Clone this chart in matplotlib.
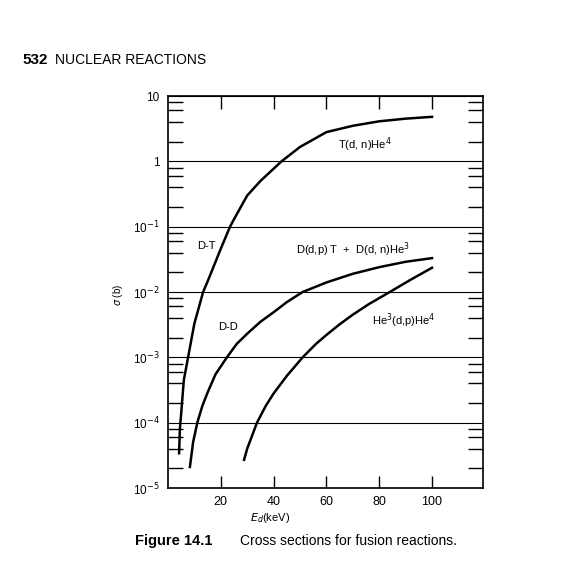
import numpy as np
import matplotlib.pyplot as plt
from matplotlib.ticker import LogLocator, NullFormatter, FixedLocator

plt.rcParams['font.family'] = ['Liberation Sans', 'DejaVu Sans']

# ---------------------------------------------------------------------
# Data (E in keV, sigma in barns)
# ---------------------------------------------------------------------
E_dt = [4.2, 4.5, 5.0, 6.0, 7.6, 10.0, 13.3, 15.0, 20.0, 23.5, 25.0, 30.0, 35.0,
        43.0, 50.0, 60.0, 70.0, 80.0, 90.0, 100.0]
s_dt = [3.4e-5, 8.0e-5, 1.4e-4, 4.5e-4, 1.0e-3, 3.3e-3, 1.0e-2, 1.45e-2, 4.6e-2,
        1.0e-1, 1.3e-1, 3.0e-1, 5.0e-1, 1.0, 1.66, 2.8, 3.5, 4.1, 4.5, 4.8]

E_dd = [8.3, 9.5, 11.1, 13.0, 15.0, 18.0, 22.3, 26.0, 30.0, 35.0, 40.0, 45.0,
        51.0, 60.0, 70.0, 80.0, 90.0, 100.0]
s_dd = [2.1e-5, 5.0e-5, 1.0e-4, 1.8e-4, 2.9e-4, 5.5e-4, 1.0e-3, 1.6e-3, 2.3e-3,
        3.5e-3, 4.9e-3, 7.0e-3, 1.0e-2, 1.4e-2, 1.9e-2, 2.4e-2, 2.9e-2, 3.3e-2]

E_he = [28.8, 30.0, 33.7, 37.0, 40.0, 45.0, 51.0, 56.0, 60.0, 65.0, 70.0, 76.0,
        84.0, 92.0, 100.0]
s_he = [2.7e-5, 4.0e-5, 1.0e-4, 1.8e-4, 2.8e-4, 5.2e-4, 1.0e-3, 1.6e-3, 2.2e-3,
        3.2e-3, 4.5e-3, 6.5e-3, 1.0e-2, 1.55e-2, 2.35e-2]

x_ticks = [20, 40, 60, 80, 100]
y_ticks = [1e-5, 1e-4, 1e-3, 1e-2, 1e-1, 1, 10]
y_labels = [r'10$^{-5}$', r'10$^{-4}$', r'10$^{-3}$', r'10$^{-2}$', r'10$^{-1}$', '1', '10']

# ---------------------------------------------------------------------
# Plot
# ---------------------------------------------------------------------
fig = plt.figure(figsize=(5.76, 5.76), dpi=100)
ax = fig.add_axes([168 / 576, 1 - 488 / 576, 315 / 576, 392 / 576])

for E, s in [(E_dt, s_dt), (E_dd, s_dd), (E_he, s_he)]:
    ax.plot(E, s, color='black', lw=1.8, solid_joinstyle='round')

ax.set_yscale('log')
ax.set_xlim(0, 119.3)
ax.set_ylim(1e-5, 10)

ax.xaxis.set_major_locator(FixedLocator(x_ticks))
ax.set_xticklabels([str(t) for t in x_ticks], fontsize=9)
ax.set_yticks(y_ticks)
ax.set_yticklabels(y_labels, fontsize=8.5)
ax.yaxis.set_minor_locator(LogLocator(base=10, subs=[2, 4, 6, 8], numticks=20))
ax.yaxis.set_minor_formatter(NullFormatter())

ax.tick_params(axis='x', which='major', direction='in', length=9, width=1,
               top=True, bottom=True, pad=6)
ax.tick_params(axis='y', which='major', direction='in', length=0,
               left=True, right=True, pad=6)
ax.tick_params(axis='y', which='minor', direction='in', length=11, width=1,
               left=True, right=True)
for sp in ax.spines.values():
    sp.set_linewidth(1.2)

ax.grid(True, axis='y', which='major', color='black', lw=0.8)

# curve labels
ax.text(365 / 576, 1 - 145 / 576, r'T(d, n)He$^4$', transform=fig.transFigure,
        ha='center', va='center', fontsize=8)
ax.text(206 / 576, 1 - 246 / 576, 'D-T', transform=fig.transFigure,
        ha='center', va='center', fontsize=8)
ax.text(353 / 576, 1 - 250 / 576, r'D(d,p) T  +  D(d, n)He$^3$', transform=fig.transFigure,
        ha='center', va='center', fontsize=8)
ax.text(228 / 576, 1 - 327 / 576, 'D-D', transform=fig.transFigure,
        ha='center', va='center', fontsize=8)
ax.text(404 / 576, 1 - 321 / 576, r'He$^3$(d,p)He$^4$', transform=fig.transFigure,
        ha='center', va='center', fontsize=8)

fig.text(118 / 576, 1 - 295 / 576, r'$\sigma$ (b)', rotation=90,
         ha='center', va='center', fontsize=7)
fig.text(270 / 576, 1 - 518 / 576, r'$E_d$(keV)', ha='center', va='center', fontsize=8)

# page header and caption
fig.text(22 / 576, 1 - 60 / 576, '532', fontsize=11, fontweight='bold', va='center')
fig.text(55 / 576, 1 - 60 / 576, 'NUCLEAR REACTIONS', fontsize=10, va='center')
fig.text(135 / 576, 1 - 541 / 576, 'Figure 14.1', fontsize=10.5, fontweight='bold', va='center')
fig.text(240 / 576, 1 - 541 / 576, 'Cross sections for fusion reactions.', fontsize=10, va='center')

fig.savefig('out.png', dpi=100)
